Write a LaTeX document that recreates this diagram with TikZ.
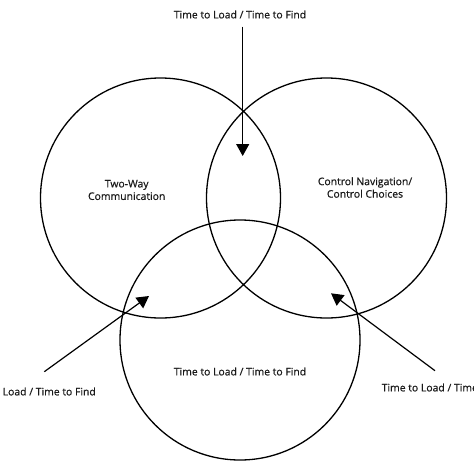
\documentclass[tikz,border=0pt]{standalone}
\usepackage{fontspec}
\setmainfont{Open Sans}[FakeBold=0.6]
\usetikzlibrary{arrows.meta}
\begin{document}
\begin{tikzpicture}[x=1pt,y=-1pt,
  ring/.style={draw=black,line width=1.3pt},
  lbl/.style={font=\fontsize{10.4}{12.5}\selectfont,text=black!90,inner sep=0pt,align=center},
  pointer/.style={line width=1.2pt,-{Triangle[width=13pt,length=12pt]}}]
\useasboundingbox (0,0) rectangle (474,474);
\node[ring,circle,minimum size=240pt,inner sep=0pt] (L) at (160.5,198) {};
\node[ring,circle,minimum size=240pt,inner sep=0pt] (R) at (326.5,198) {};
\node[ring,circle,minimum size=240pt,inner sep=0pt] (B) at (240,340) {};
\node[lbl] (tl) at (126.7,190) {Two-Way\\Communication};
\node[lbl] (tr) at (365,187.5) {Control Navigation/\\Control Choices};
\node[lbl] (tb) at (240,371.5) {Time to Load / Time to Find};
\node[lbl] (top) at (240,14.5) {Time to Load / Time to Find};
\node[lbl,anchor=east] (lft) at (96,391.5) {Time to Load / Time to Find};
\node[lbl,anchor=west] (rgt) at (381.5,387.5) {Time to Load / Time to Find};
\coordinate (a1) at (242.7,26.5);
\coordinate (a1t) at (242.7,156);
\coordinate (a2) at (44.3,371.7);
\coordinate (a2t) at (149,296);
\coordinate (a3) at (435,370.7);
\coordinate (a3t) at (331,293.3);
\draw[pointer] (a1) -- (a1t);
\draw[pointer] (a2) -- (a2t);
\draw[pointer] (a3) -- (a3t);
\end{tikzpicture}
\end{document}
